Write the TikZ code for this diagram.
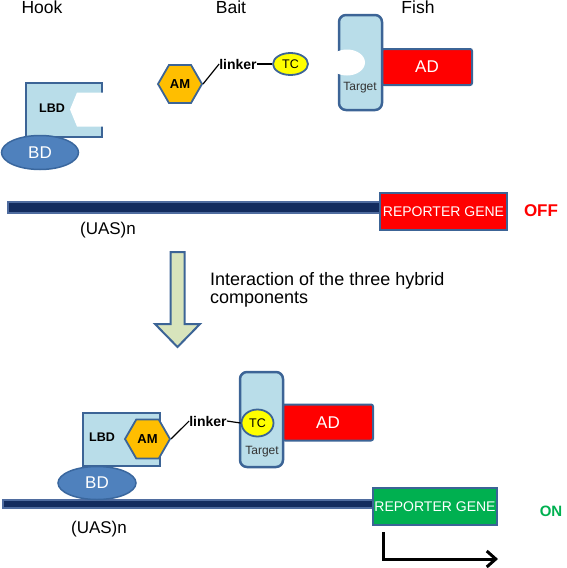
\documentclass[tikz,border=0pt]{standalone}
\usepackage{fontspec}
\setmainfont{Liberation Sans}
\usetikzlibrary{shapes.geometric,arrows.meta}
\definecolor{lbfill}{HTML}{B9DDE9}
\definecolor{bblue}{HTML}{3C6496}
\definecolor{bdblue}{HTML}{4F81BD}
\definecolor{bdedge}{HTML}{3A679E}
\definecolor{amorange}{HTML}{FFBE00}
\definecolor{tcyellow}{HTML}{FFFF00}
\definecolor{adred}{HTML}{FF0000}
\definecolor{gngreen}{HTML}{00B050}
\definecolor{arrowgreen}{HTML}{D8E4BC}
\definecolor{dnanavy}{HTML}{132C5E}
\definecolor{dnaedge}{HTML}{4F6C9F}
\definecolor{targettxt}{HTML}{333333}
\begin{document}
\begin{tikzpicture}[x=1pt,y=-1pt,
  outl/.style={draw=bblue, line width=2pt},
  txt/.style={inner sep=0pt, font=\fontsize{#1}{#1}\selectfont},
  btxt/.style={inner sep=0pt, font=\fontsize{#1}{#1}\selectfont\bfseries},
  hexam/.style={regular polygon, regular polygon sides=6, minimum size=44pt, inner sep=0pt,
     fill=amorange, draw=bblue, line width=1.8pt, font=\fontsize{13}{13}\selectfont\bfseries},
  tcell/.style={ellipse, fill=tcyellow, draw=bblue, line width=1.8pt, inner sep=0pt,
     font=\fontsize{12.5}{12.5}\selectfont},
  bdell/.style={ellipse, fill=bdblue, draw=bdedge, line width=1.5pt, inner sep=0pt,
     minimum width=77pt, minimum height=34pt, text=white, font=\fontsize{17}{17}\selectfont},
  adbox/.style={rectangle, fill=adred, draw=bblue, line width=2pt, rounded corners=2pt,
     minimum width=90pt, minimum height=36pt, inner sep=0pt, text=white,
     font=\fontsize{17}{17}\selectfont},
  repbox/.style={rectangle, draw=bblue, line width=2pt, inner sep=0pt, text=white,
     font=\fontsize{14}{14}\selectfont},
  dna/.style={fill=dnanavy, draw=dnaedge, line width=1.5pt},
  linkline/.style={draw=black, line width=1.2pt}]
\useasboundingbox (0,0) rectangle (567,568);

% titles
\node[txt=17.5, anchor=base] (hook) at (42,13.5) {Hook};
\node[txt=17.5, anchor=base] (bait) at (231,13.5) {Bait};
\node[txt=17.5, anchor=base] (fish) at (418,13.5) {Fish};

% ---------- top: hook ----------
\path[fill=lbfill, outl] (26,83) rectangle (102,137);
\fill[white] (105,92.5) -- (77,92.5) -- (70,109.5) -- (77,126.5) -- (105,126.5) -- cycle;
\node[btxt=12.5] (lbd1) at (52,108) {LBD};
\node[bdell] (bd1) at (40,152.5) {BD};

% ---------- top: bait ----------
\node[hexam] (am1) at (180,84) {AM};
\node[btxt=14] (lk1) at (238,64) {linker};
\node[tcell, minimum width=35pt, minimum height=22pt] (tc1) at (290.5,64) {TC};
\draw[linkline] (am1.east) -- (lk1.west);
\draw[linkline] (lk1.east) -- (tc1.west);

% ---------- top: fish ----------
\node[adbox] (ad1) at (427,67) {AD};
\path[fill=lbfill, outl, line width=2.5pt, rounded corners=7pt] (339,15) rectangle (382,110);
\fill[white] (347,62.5) ellipse (18 and 13);
\node[txt=12, text=targettxt] (tg1) at (360,88) {Target};

% ---------- top: DNA ----------
\path[dna] (8,202) rectangle (380,213);
\node[repbox, fill=adred, minimum width=127pt, minimum height=37pt] (rep1) at (443.5,211.5) {REPORTER GENE};
\node[btxt=17, text=adred] (off) at (541,211) {OFF};
\node[txt=17, anchor=base] (uas1) at (108,234) {(UAS)n};

% ---------- big arrow ----------
\path[fill=arrowgreen, draw=bblue, line width=2pt]
  (170.5,252) -- (184.5,252) -- (184.5,324) -- (200,324) -- (177.5,347)
  -- (155,324) -- (170.5,324) -- cycle;
\node[txt=18, anchor=base west] (int1) at (210,285) {Interaction of the three hybrid};
\node[txt=18, anchor=base west] (int2) at (210,303.5) {components};

% ---------- bottom: DNA ----------
\path[dna] (3,500) rectangle (373,508);

% ---------- bottom: complex ----------
\path[fill=lbfill, outl] (83,413) rectangle (160,466);
\node[btxt=12.5] (lbd2) at (102,437) {LBD};
\node[hexam, minimum size=45pt] (am2) at (147.5,439) {AM};
\node[bdell, minimum width=78pt, minimum height=33pt] (bd2) at (97,483) {BD};

\node[adbox] (ad2) at (328,422.5) {AD};
\path[fill=lbfill, outl, line width=2.5pt, rounded corners=7pt] (240,372) rectangle (283,467);
\node[txt=12, text=targettxt] (tg2) at (262,452) {Target};
\node[tcell, minimum width=32pt, minimum height=27pt] (tc2) at (257.5,423) {TC};
\node[btxt=14] (lk2) at (208,421) {linker};
\draw[linkline] (am2.east) -- (lk2.west);
\draw[linkline] (lk2.east) -- (tc2.west);

% ---------- bottom: reporter ----------
\node[repbox, fill=gngreen, minimum width=124pt, minimum height=37pt] (rep2) at (435,506.5) {REPORTER GENE};
\node[btxt=15, text=gngreen] (on) at (551,511.5) {ON};
\node[txt=17, anchor=base] (uas2) at (99,533) {(UAS)n};
\coordinate (tx0) at (383,532);
\coordinate (tx1) at (498,559);
\draw[line width=3pt, -{Straight Barb[length=9pt,width=16pt]}] (tx0) |- (tx1);
\end{tikzpicture}
\end{document}
